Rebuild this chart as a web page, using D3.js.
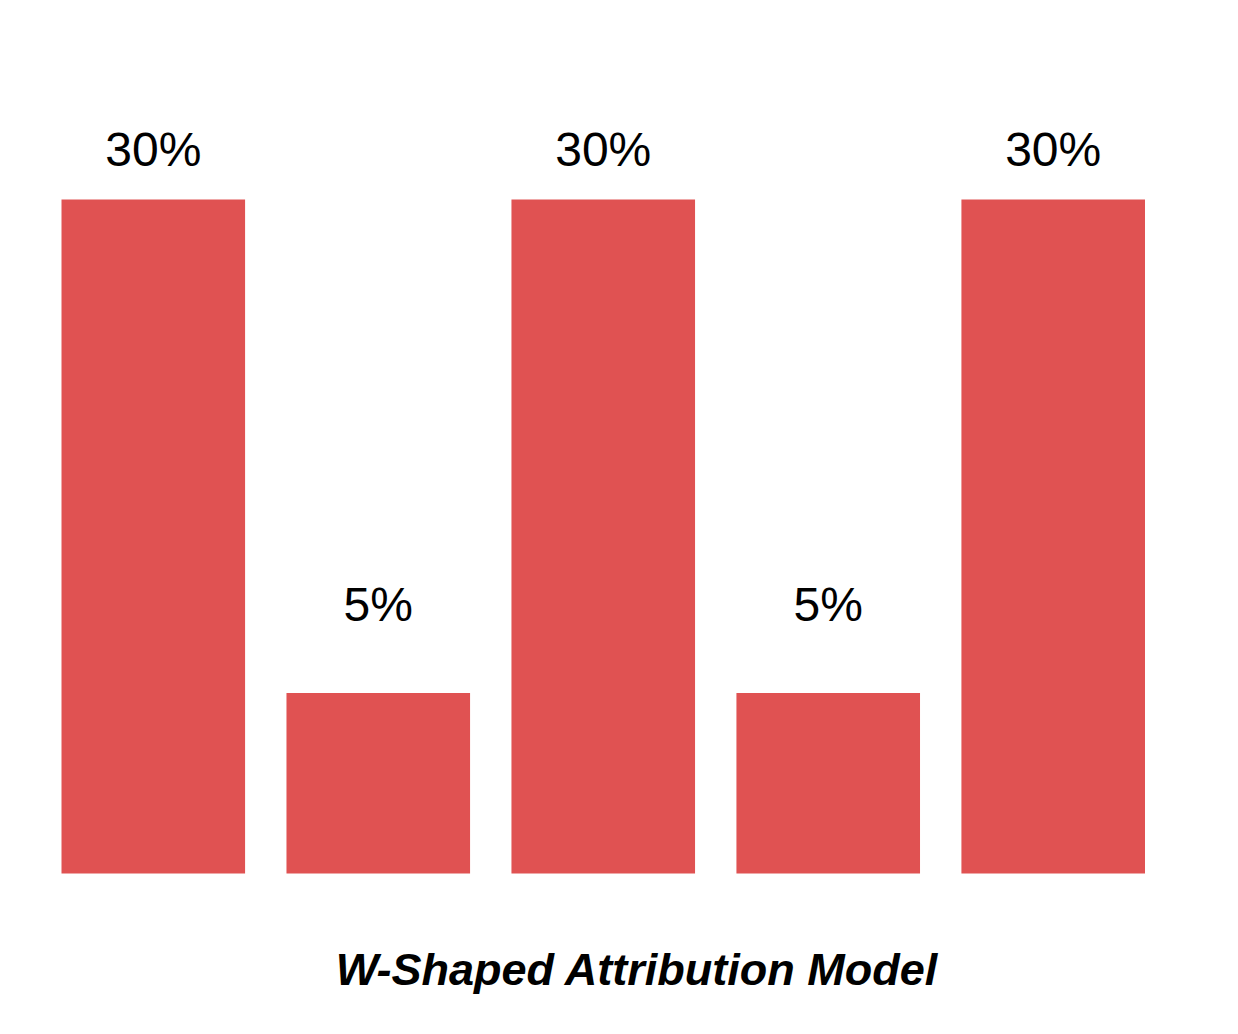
<!DOCTYPE html>
<html>
<head>
<meta charset="utf-8">
<script src="https://cdn.jsdelivr.net/npm/d3@7"></script>
<style>
  html, body { margin: 0; padding: 0; background: #ffffff; }
  svg { display: block; }
</style>
</head>
<body>
<script>
// ---- data ----
const categories = ["Touch 1", "Touch 2", "Touch 3", "Touch 4", "Touch 5"];
const values = [30, 5, 30, 5, 30];
const valueLabels = ["30%", "5%", "30%", "5%", "30%"];
const chartTitle = "W-Shaped Attribution Model";

// ---- layout ----
const W = 1238, H = 1034;
const baseline = 873.5;
const barColor = "#e05252";
const fontFamily = "'Liberation Sans', Arial, Helvetica, sans-serif";

const svg = d3.select("body").append("svg")
  .attr("width", W).attr("height", H);

const x = d3.scaleBand()
  .domain(categories)
  .range([61.5, 1145])
  .paddingInner(0.184)
  .paddingOuter(0);

// value axis (not drawn) – maps values to bar tops
const y = d3.scaleLinear()
  .domain([5, 30])
  .range([693, 199.5]);

// label baseline position per value
const yLabel = d3.scaleLinear()
  .domain([5, 30])
  .range([620.5, 165.5]);

const data = categories.map((c, i) => ({ c, v: values[i], label: valueLabels[i] }));

svg.append("g").selectAll("rect")
  .data(data)
  .join("rect")
  .attr("x", d => x(d.c))
  .attr("y", d => y(d.v))
  .attr("width", x.bandwidth())
  .attr("height", d => baseline - y(d.v))
  .attr("fill", barColor);

svg.append("g").selectAll("text")
  .data(data)
  .join("text")
  .attr("x", d => x(d.c) + x.bandwidth() / 2)
  .attr("y", d => yLabel(d.v))
  .attr("text-anchor", "middle")
  .attr("font-family", fontFamily)
  .attr("font-size", 48)
  .attr("fill", "#000")
  .text(d => d.label);

svg.append("text")
  .attr("x", 636.5)
  .attr("y", 985)
  .attr("text-anchor", "middle")
  .attr("font-family", fontFamily)
  .attr("font-size", 45)
  .attr("font-weight", "bold")
  .attr("font-style", "italic")
  .attr("fill", "#000")
  .text(chartTitle);
</script>
</body>
</html>
